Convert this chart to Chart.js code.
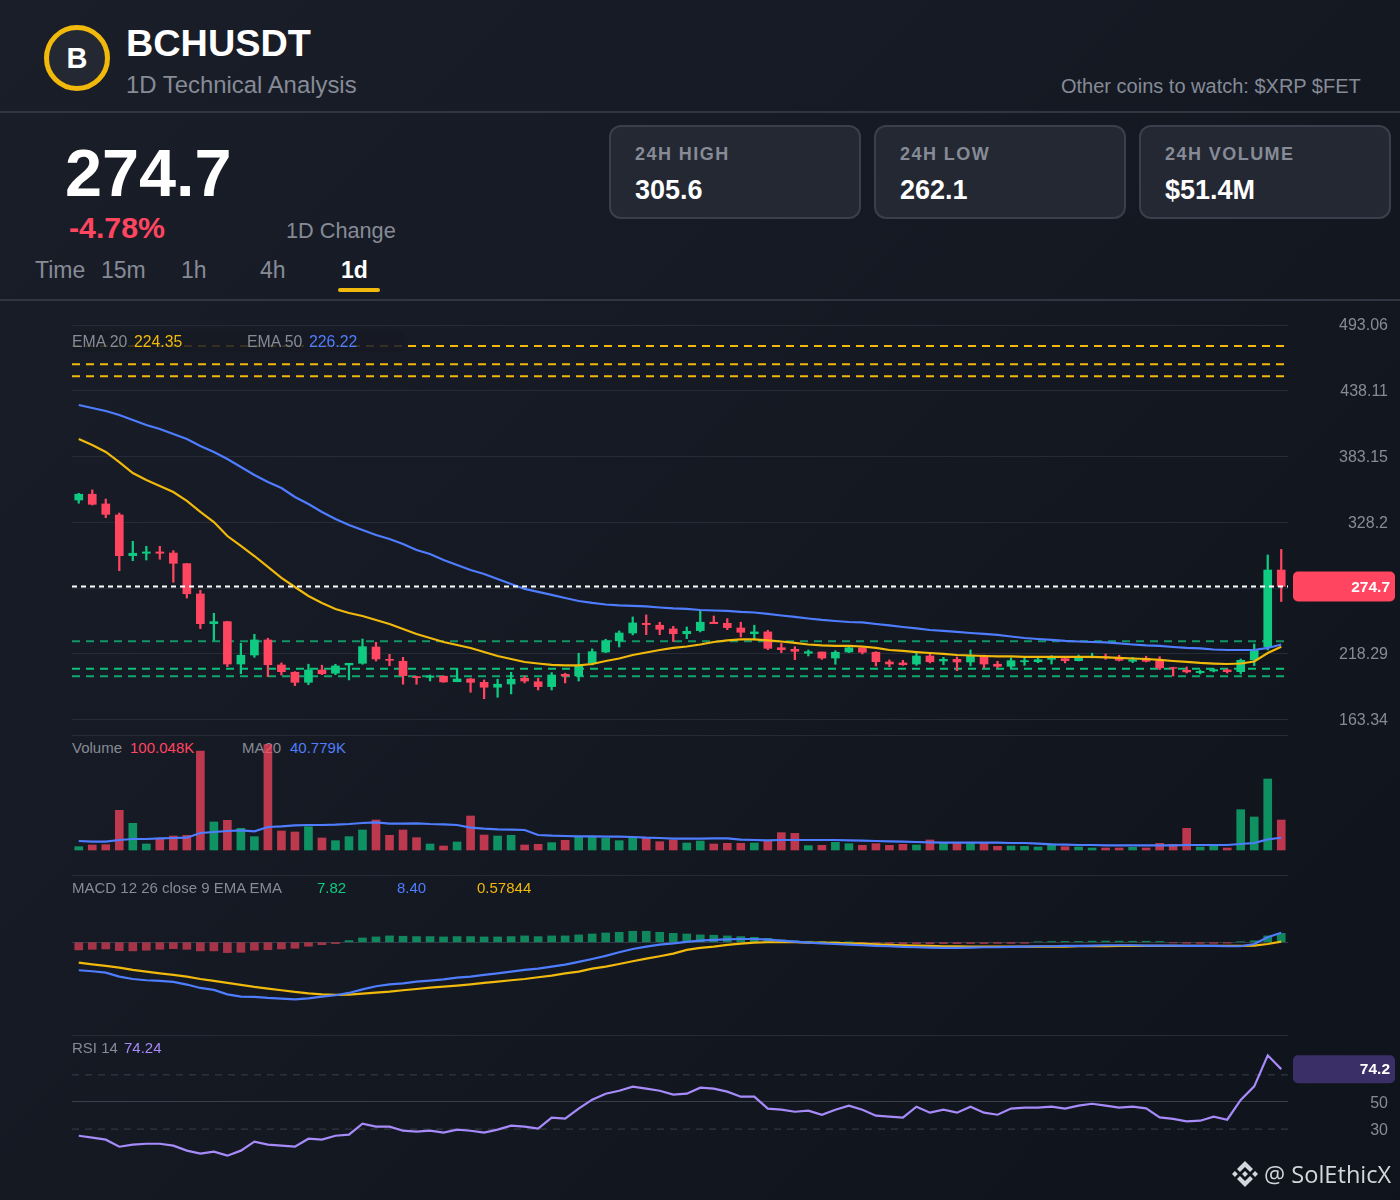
<!DOCTYPE html>
<html>
<head>
<meta charset="utf-8">
<title>BCHUSDT</title>
<script src="https://cdn.jsdelivr.net/npm/chart.js@4/dist/chart.umd.min.js"></script>
<style>
html, body { margin: 0; padding: 0; background: #12161e; }
#page { position: relative; width: 1400px; height: 1200px; overflow: hidden; background: linear-gradient(135deg, #1a1e29 0%, #0f131b 100%); font-family: "Liberation Sans", Arial, sans-serif; color: #fff; }
#page canvas { position: absolute; left: 0; }
.t { position: absolute; white-space: nowrap; line-height: 20px; }
.b { font-weight: 700; }
.gray { color: #868b96; }
.small { font-size: 15px; color: #868b96; }
.ema { font-size: 15.8px; }
.rule { position: absolute; left: 0; width: 1400px; height: 2px; background: #2f3541; }
.sep { position: absolute; left: 72px; width: 1216px; height: 1px; background: #262b35; }
.card { position: absolute; top: 125px; width: 248px; height: 90px; background: #232833; border: 2px solid #393f4b; border-radius: 12px; }
.card .lab { position: absolute; left: 24px; top: 17px; font-size: 18px; font-weight: 700; letter-spacing: 1.45px; line-height: 20px; color: #868b96; white-space: nowrap; }
.card .val { position: absolute; left: 24px; top: 49px; font-size: 27px; font-weight: 700; line-height: 28px; white-space: nowrap; }
#logo { position: absolute; left: 44px; top: 25px; width: 56px; height: 56px; border: 5px solid #f0b90b; border-radius: 50%; background: #232833; text-align: center; line-height: 56px; font-size: 29px; font-weight: 700; }
#tab { position: absolute; left: 338px; top: 288px; width: 42px; height: 4px; border-radius: 2px; background: #f0b90b; }
#emaBox { position: absolute; left: 72px; top: 331px; width: 332px; height: 21px; background: rgba(22, 26, 35, 0.86); }
</style>
</head>
<body>
<div id="page">
  <canvas id="priceChart" width="1400" height="423" style="top:312px"></canvas>
  <div id="emaBox"></div>

  <span class="t small" style="left:72px;top:738px">Volume</span>
  <span class="t small" style="left:130px;top:738px;color:#ff4560">100.048K</span>
  <span class="t small" style="left:242px;top:738px">MA20</span>
  <span class="t small" style="left:290px;top:738px;color:#4f7dff">40.779K</span>
  <canvas id="volumeChart" width="1400" height="140" style="top:735px"></canvas>
  <canvas id="macdChart" width="1400" height="160" style="top:875px"></canvas>
  <canvas id="rsiChart" width="1400" height="165" style="top:1035px"></canvas>

  <div class="sep" style="top:735px"></div>
  <div class="sep" style="top:875px"></div>
  <div class="sep" style="top:1035px"></div>

  <span class="t small ema" style="left:72px;top:332px">EMA 20</span>
  <span class="t small ema" style="left:134px;top:332px;color:#f0b90b">224.35</span>
  <span class="t small ema" style="left:247px;top:332px">EMA 50</span>
  <span class="t small ema" style="left:309px;top:332px;color:#4f7dff">226.22</span>

  <span class="t small" style="left:72px;top:878px">MACD 12 26 close 9 EMA EMA</span>
  <span class="t small" style="left:317px;top:878px;color:#0ecb81">7.82</span>
  <span class="t small" style="left:397px;top:878px;color:#4f7dff">8.40</span>
  <span class="t small" style="left:477px;top:878px;color:#f0b90b">0.57844</span>

  <span class="t small" style="left:72px;top:1038px">RSI 14</span>
  <span class="t small" style="left:124px;top:1038px;color:#a78bfa">74.24</span>

  <div id="logo">B</div>
  <span class="t b" style="left:126px;top:33px;font-size:37.8px">BCHUSDT</span>
  <span class="t gray" style="left:126px;top:75px;font-size:23.9px">1D Technical Analysis</span>
  <span class="t gray" style="left:1061px;top:76px;font-size:20px">Other coins to watch: $XRP $FET</span>
  <div class="rule" style="top:111px"></div>

  <span class="t b" style="left:65px;top:163px;font-size:66.6px">274.7</span>
  <span class="t b" style="left:69px;top:218px;font-size:30.3px;color:#ff4560">-4.78%</span>
  <span class="t gray" style="left:286px;top:221px;font-size:21.7px">1D Change</span>
  <span class="t gray" style="left:35px;top:260px;font-size:23px">Time</span>
  <span class="t gray" style="left:101px;top:260px;font-size:23px">15m</span>
  <span class="t gray" style="left:181px;top:260px;font-size:23px">1h</span>
  <span class="t gray" style="left:260px;top:260px;font-size:23px">4h</span>
  <span class="t b" style="left:341px;top:260px;font-size:23px">1d</span>
  <div id="tab"></div>
  <div class="rule" style="top:299px"></div>

  <div class="card" style="left:609px"><span class="lab">24H HIGH</span><span class="val">305.6</span></div>
  <div class="card" style="left:874px"><span class="lab">24H LOW</span><span class="val">262.1</span></div>
  <div class="card" style="left:1139px"><span class="lab">24H VOLUME</span><span class="val">$51.4M</span></div>

  <svg style="position:absolute;left:1232px;top:1161px" width="26" height="26" viewBox="0 0 126.61 126.61" fill="#d3d6db">
    <path d="M38.73 53.2l24.59-24.58 24.6 24.6 14.3-14.31L63.32 0 24.42 38.9zM0 63.31l14.3-14.31 14.31 14.31-14.31 14.3zM38.73 73.41l24.59 24.59 24.6-24.6 14.31 14.29-.01.01-38.9 38.91-38.9-38.88-.02-.02zM98 63.31l14.3-14.31 14.31 14.3-14.31 14.32z"/>
    <path d="M77.83 63.3L63.32 48.78 52.59 59.51l-1.24 1.23-2.54 2.54 14.51 14.5 14.51-14.47z"/>
  </svg>
  <span class="t" style="left:1264px;top:1164px;font-family:'Open Sans';font-size:23.6px;color:#d3d6db">@ SolEthicX</span>
</div>

<script>
// 1D candles
var opens = [346.9,351.7,343.6,334.4,300.4,302.4,303.5,302.6,293.7,268.4,243.6,245.3,209.9,217.4,230.0,209.1,203.0,194.6,204.9,202.2,209.1,210.5,224.1,213.8,212.2,199.3,198.8,199.7,195.1,197.4,194.6,190.5,193.2,198.0,195.1,191.0,201.3,199.9,210.5,219.9,229.2,235.8,243.9,242.3,239.2,235.2,237.8,244.8,243.9,240.0,235.2,236.7,223.5,222.2,218.9,219.9,214.9,219.9,223.5,219.7,211.6,210.8,209.9,216.6,212.4,213.8,211.6,216.6,209.7,208.0,211.8,211.8,213.8,214.4,212.7,215.5,216.0,215.2,212.2,214.7,212.7,206.9,204.7,202.7,204.1,204.9,203.5,213.3,224.4,288.4];
var closes = [351.7,343.3,334.9,300.4,302.4,303.5,302.4,294.0,268.6,243.6,245.3,209.9,217.2,230.0,209.3,203.5,194.6,204.9,201.8,208.3,210.5,224.4,214.1,213.0,200.2,198.5,199.9,194.9,197.4,194.6,190.5,193.0,197.2,195.7,191.0,200.7,199.9,208.3,220.2,229.4,235.8,244.2,242.8,238.9,235.2,237.2,244.8,243.6,240.3,236.4,236.7,223.0,221.9,220.5,220.2,214.9,219.7,223.5,219.7,211.8,209.9,209.3,216.6,211.8,213.8,211.6,216.6,209.9,208.0,212.7,212.7,213.5,214.7,212.7,215.2,216.0,215.5,213.0,213.5,212.2,206.6,206.3,203.3,203.8,205.2,203.5,213.0,221.4,288.4,274.7];
var highs = [352.5,355.3,347.7,336.0,312.4,308.2,308.2,304.6,294.0,271.5,252.3,245.6,227.2,234.7,231.4,210.8,203.5,209.7,208.9,209.7,210.5,230.8,228.0,218.0,215.5,199.7,200.7,199.9,206.3,198.0,196.6,197.2,203.0,199.9,198.0,202.7,202.2,218.9,222.5,230.6,237.5,249.2,250.9,244.8,241.4,240.8,254.4,250.0,247.8,244.8,242.3,238.1,227.2,224.4,221.6,219.9,221.0,223.9,224.4,220.2,213.3,213.0,218.9,218.9,215.5,215.8,221.6,217.4,212.2,215.0,215.2,214.7,216.9,216.0,217.4,218.9,218.3,217.2,215.5,216.4,216.0,207.2,207.4,204.9,206.0,205.8,214.1,226.6,301.0,305.6];
var lows = [344.2,342.7,332.1,287.8,296.2,296.8,297.4,278.2,265.0,239.4,229.7,207.7,201.8,215.5,199.3,200.7,191.8,192.6,201.0,201.0,196.6,209.7,212.4,208.5,193.0,193.0,195.7,194.6,195.1,186.3,180.9,182.1,184.9,194.1,188.2,188.2,194.1,195.7,209.1,219.4,224.1,234.2,234.4,234.4,228.6,231.1,236.7,243.6,238.6,232.5,230.2,221.9,219.4,213.5,216.6,213.8,209.7,219.4,218.3,208.3,207.7,208.8,208.8,210.8,209.3,204.3,208.3,206.6,206.6,206.8,208.8,211.0,209.9,210.8,212.4,215.0,213.8,212.4,211.0,211.6,205.2,199.9,202.4,201.6,203.3,202.4,201.6,208.5,221.6,262.1];

// overlays
var ema20 = [397.8,392.8,387.0,378.6,369.4,363.6,358.6,353.6,346.1,336.9,328.5,316.8,308.5,300.1,291.0,281.8,274.2,266.7,260.9,255.9,252.5,250.0,246.7,243.3,239.2,235.0,231.6,228.3,225.8,223.3,219.9,216.6,214.1,211.6,210.3,209.1,208.7,208.7,209.9,212.4,214.5,217.4,219.5,221.6,223.3,224.5,226.2,228.3,229.6,230.4,230.4,229.6,228.7,227.5,226.2,225.4,225.0,225.0,224.5,223.3,221.6,220.8,219.9,219.1,218.3,217.4,217.0,216.6,216.2,216.2,215.8,215.8,215.8,215.8,215.8,215.8,215.4,215.0,214.5,214.1,213.3,212.4,211.6,210.8,210.3,209.9,210.3,212.0,219.1,224.35];
var ema50 = [426.2,423.7,421.2,417.9,413.7,409.5,406.2,402.0,397.9,392.0,387.0,381.1,374.5,367.8,361.9,356.9,349.4,343.6,336.9,331.0,326.0,321.8,317.7,314.3,310.2,305.1,301.8,296.8,292.6,288.4,285.1,280.9,276.7,272.6,270.1,267.6,265.0,262.5,260.9,259.6,258.8,258.4,258.0,257.1,256.3,255.9,255.0,254.6,254.2,253.4,252.9,251.7,250.4,249.2,247.9,246.7,245.8,245.0,244.6,243.3,242.1,240.8,239.6,238.3,237.5,236.7,235.8,235.0,234.2,232.9,231.6,230.8,230.0,229.2,228.7,228.3,227.9,227.1,226.2,225.4,225.0,224.1,223.3,222.9,222.0,221.6,221.6,221.6,223.3,226.22];

// volume in thousands
var volumes = [11.1,16.7,17.8,132.3,88.9,20.0,37.8,46.7,48.9,330.2,93.4,98.9,72.3,44.5,351.3,63.4,60.0,77.8,40.0,31.1,44.5,66.7,100.1,48.9,66.7,41.1,20.0,13.3,26.7,113.4,50.0,46.7,48.9,16.7,18.9,24.5,32.2,42.2,42.2,38.9,31.1,42.2,38.9,27.8,33.4,23.3,30.0,20.0,22.2,22.2,23.3,30.0,57.8,55.6,14.5,15.6,25.6,21.1,15.6,21.1,15.6,18.9,16.7,33.4,22.2,22.2,24.5,24.5,12.2,13.3,12.2,10.0,20.0,11.1,10.0,6.7,6.7,6.7,8.9,6.7,22.2,18.9,72.3,10.0,15.6,6.7,134.5,110.1,236.8,100.048];
var volumeMa = [30.0,27.8,27.8,33.4,36.7,36.7,38.9,40.0,41.1,56.7,60.0,63.4,65.6,62.3,76.7,78.9,82.3,83.4,83.4,84.5,86.7,90.0,92.3,87.8,87.8,88.9,86.7,85.6,83.4,74.5,71.1,68.9,67.8,66.7,50.0,47.8,46.7,45.6,45.6,44.5,44.5,43.4,41.1,40.0,37.8,37.8,37.8,38.9,38.9,34.5,33.4,32.2,33.4,33.4,33.4,33.4,33.4,32.2,31.1,30.0,28.9,27.8,26.7,25.6,24.5,24.5,24.5,24.5,24.5,23.3,23.3,21.1,18.9,17.8,16.7,16.7,15.6,15.6,15.6,15.6,15.6,15.6,16.7,16.7,16.7,16.7,20.0,23.3,35.6,40.779];

// MACD
var macdHist = [-6.7,-6.2,-5.9,-7.3,-7.6,-7.0,-6.2,-5.6,-6.2,-7.6,-7.6,-9.1,-8.8,-7.0,-6.5,-5.9,-5.3,-3.5,-2.1,-1.2,1.5,3.8,4.7,5.6,5.3,5.0,5.0,4.7,5.0,5.0,4.7,4.7,5.0,5.6,5.0,5.6,5.6,6.5,7.3,8.2,8.8,9.7,9.7,8.8,7.9,7.3,6.5,6.2,5.6,5.0,4.4,3.5,2.1,1.5,0.9,0.6,0.3,0.3,-0.5,-0.9,-1.1,-1.2,-1.3,-1.3,-1.2,-1.2,-1.1,-1.1,-1.0,-1.0,-0.9,0.5,0.7,0.8,0.8,1.0,1.1,1.0,0.9,0.9,0.7,-0.6,-0.9,-1.0,-1.0,-0.8,0.5,1.3,5.6,7.82];
var macdLine = [-24.6,-25.5,-26.7,-30.2,-32.3,-33.4,-34.0,-34.9,-37.2,-40.2,-41.9,-45.8,-47.8,-48.1,-49.0,-49.6,-50.2,-49.3,-47.8,-46.6,-44.6,-41.4,-38.7,-37.0,-36.1,-34.6,-33.7,-32.6,-31.1,-30.2,-28.7,-27.3,-25.8,-24.3,-23.2,-21.4,-19.7,-17.3,-14.7,-12.0,-8.8,-5.9,-3.8,-2.1,-0.9,0.3,1.5,2.1,2.6,2.9,2.9,2.3,1.5,0.6,-0.3,-0.9,-1.5,-2.1,-2.6,-3.2,-3.5,-4.1,-4.4,-4.7,-5.0,-5.0,-4.7,-4.4,-4.4,-4.1,-3.8,-3.5,-3.5,-3.2,-3.2,-2.9,-2.6,-2.6,-2.6,-2.9,-2.9,-2.9,-3.2,-3.2,-3.2,-3.5,-3.5,-1.5,4.4,8.40];
var macdSignal = [-17.9,-19.4,-20.8,-22.3,-24.3,-25.8,-27.3,-28.7,-30.2,-32.3,-34.0,-35.8,-37.5,-39.3,-40.8,-42.2,-43.7,-44.9,-45.8,-46.3,-46.0,-45.2,-44.3,-43.4,-42.2,-41.1,-39.9,-39.0,-38.1,-37.0,-35.8,-34.6,-33.4,-32.3,-30.8,-29.3,-27.3,-25.8,-23.2,-21.4,-19.1,-16.7,-14.4,-12.3,-10.0,-6.7,-5.0,-3.8,-2.3,-1.2,-0.3,0,0,0,-0.3,-0.3,-0.6,-0.9,-1.2,-1.8,-2.3,-2.6,-2.9,-3.2,-3.5,-3.5,-3.8,-3.8,-3.8,-3.8,-3.8,-3.8,-3.8,-3.8,-3.5,-3.5,-3.5,-3.2,-3.2,-3.2,-3.2,-3.2,-3.2,-3.2,-3.2,-3.2,-3.2,-2.9,-1.5,0.57844];

// RSI
var rsi = [25.1,23.7,22.2,17.0,18.5,19.2,19.2,17.8,14.1,11.9,13.3,10.4,14.1,20.7,18.5,17.8,17.0,22.9,22.2,25.1,25.9,34.0,31.8,31.8,28.8,28.1,28.8,27.4,29.6,28.8,27.4,29.6,32.5,31.8,30.3,38.4,37.7,45.1,51.7,56.1,58.3,61.3,59.8,58.3,55.4,56.1,60.5,59.8,57.6,53.9,53.9,45.1,44.3,42.8,43.6,40.6,44.3,47.3,44.3,39.9,39.2,38.4,46.5,42.1,44.3,42.1,46.5,42.1,40.6,45.1,45.8,45.8,46.5,45.1,47.3,48.7,47.3,45.8,46.5,45.3,38.6,37.5,35.7,36.2,39.2,36.9,51.5,61.5,84.4,74.24];

// axis ticks and level lines
var priceTicks = [493.06, 438.11, 383.15, 328.2, 273.25, 218.29, 163.34];
var rsiTicks = [50, 30];
var rsiGuides = [70, 30];
var resistanceLevels = [475.5, 460.2, 450.2];
var supportLevels = [228.9, 206.0, 199.7];
var supportAlpha = [0.7, 0.95, 0.8];
var lastPrice = 274.7;
var lastRsi = 74.2;

var labels = opens.map(function (v, i) { return String(i + 1); });
var UP = '#0ecb81', DOWN = '#ff4560', GOLD = '#f0b90b', BLUE = '#4f7dff', PURPLE = '#a78bfa';
var GRID = '#262b35', TICK = '#868b96';
var FONT = '"Liberation Sans", Arial, sans-serif';

Chart.defaults.animation = false;
Chart.defaults.font.family = FONT;

var upDown = opens.map(function (o, i) { return closes[i] >= o; });
var candleColors = upDown.map(function (u) { return u ? UP : DOWN; });
var volumeColors = upDown.map(function (u) { return u ? 'rgba(14,203,129,0.68)' : 'rgba(255,69,96,0.72)'; });
var histColors = macdHist.map(function (v) { return v >= 0 ? 'rgba(14,203,129,0.62)' : 'rgba(255,69,96,0.62)'; });

function lineSet(data, color, width) {
    return { type: 'line', data: data, borderColor: color, borderWidth: width || 2.2, pointRadius: 0, tension: 0, order: 1 };
}

function xAxis() {
    return { type: 'category', display: false, offset: true, grid: { display: false } };
}

// horizontal level lines, placed with the chart's own y scale
function levelPlugin(id, hook, lines) {
    var p = { id: id };
    p[hook] = function (chart) {
        var ctx = chart.ctx, y = chart.scales.y;
        lines.forEach(function (l) {
            ctx.save();
            ctx.beginPath();
            ctx.setLineDash(l.dash);
            ctx.lineWidth = l.width;
            ctx.strokeStyle = l.color;
            ctx.moveTo(chart.chartArea.left, y.getPixelForValue(l.value));
            ctx.lineTo(l.end, y.getPixelForValue(l.value));
            ctx.stroke();
            ctx.restore();
        });
    };
    return p;
}

// value tag at the right of the axis
function tagPlugin(id, value, fill, h) {
    return {
        id: id,
        afterDraw: function (chart) {
            var ctx = chart.ctx, cy = chart.scales.y.getPixelForValue(value);
            ctx.save();
            ctx.fillStyle = fill;
            ctx.beginPath();
            ctx.roundRect(1293, cy - h / 2, 102, h, 5);
            ctx.fill();
            ctx.fillStyle = '#fff';
            ctx.font = '700 15.5px ' + FONT;
            ctx.textAlign = 'right';
            ctx.textBaseline = 'middle';
            ctx.fillText(String(value), 1390, cy + 1);
            ctx.restore();
        }
    };
}

// y axis labels sit far right of the plot; the gap comes from an invisible tick mark
function rightAxis(min, max, ticks, gap, gridColor, nudge) {
    return {
        position: 'right', min: min, max: max,
        afterBuildTicks: function (s) { s.ticks = ticks.map(function (v) { return { value: v }; }); },
        afterFit: function (s) { s.width = 100; s.paddingTop = 0; s.paddingBottom = 0; },
        grid: { color: gridColor, tickColor: 'transparent', tickLength: gap },
        border: { display: false },
        ticks: { autoSkip: false, color: TICK, font: { size: 16 }, padding: 0, labelOffset: nudge, crossAlign: 'far', callback: function (v) { return String(v); } }
    };
}

var backLines = resistanceLevels.map(function (v) {
    return { value: v, color: GOLD, dash: [8, 6], width: 2, end: 1285 };
}).concat(supportLevels.map(function (v, i) {
    return { value: v, color: 'rgba(14,203,129,' + supportAlpha[i] + ')', dash: [8, 6], width: 2, end: 1285 };
}));

new Chart(document.getElementById('priceChart'), {
    data: {
        labels: labels,
        datasets: [
            lineSet(ema50, BLUE),
            lineSet(ema20, GOLD),
            { type: 'bar', data: opens.map(function (o, i) { return [o, closes[i]]; }), backgroundColor: candleColors, barThickness: 8, grouped: false, order: 2 },
            { type: 'bar', data: lows.map(function (l, i) { return [l, highs[i]]; }), backgroundColor: candleColors, barThickness: 1.6, grouped: false, order: 3 }
        ]
    },
    options: {
        responsive: false,
        layout: { autoPadding: false, padding: { left: 72, right: 12 } },
        plugins: { legend: { display: false }, tooltip: { enabled: false } },
        scales: {
            x: xAxis(),
            y: rightAxis(150.6, 503.92, priceTicks, 51, GRID, 1)
        }
    },
    plugins: [
        levelPlugin('levels', 'beforeDatasetsDraw', backLines),
        levelPlugin('lastLine', 'afterDatasetsDraw', [{ value: lastPrice, color: '#ffffff', dash: [5, 4], width: 2, end: 1288 }]),
        tagPlugin('priceTag', lastPrice, DOWN, 30)
    ]
});

new Chart(document.getElementById('volumeChart'), {
    data: {
        labels: labels,
        datasets: [
            lineSet(volumeMa, BLUE),
            { type: 'bar', data: volumes, backgroundColor: volumeColors, barThickness: 8, order: 2 }
        ]
    },
    options: {
        responsive: false,
        layout: { autoPadding: false, padding: { left: 72, right: 112 } },
        plugins: { legend: { display: false }, tooltip: { enabled: false } },
        scales: {
            x: xAxis(),
            y: { display: false, min: -83.4, max: 383.5 }
        }
    }
});

new Chart(document.getElementById('macdChart'), {
    data: {
        labels: labels,
        datasets: [
            lineSet(macdLine, BLUE),
            lineSet(macdSignal, GOLD),
            { type: 'bar', data: macdHist, backgroundColor: histColors, barThickness: 8, order: 2 }
        ]
    },
    options: {
        responsive: false,
        layout: { autoPadding: false, padding: { left: 72, right: 112 } },
        plugins: { legend: { display: false }, tooltip: { enabled: false } },
        scales: {
            x: xAxis(),
            y: {
                position: 'right', min: -81.6, max: 59.2,
                afterBuildTicks: function (s) { s.ticks = [{ value: 0 }]; },
                afterFit: function (s) { s.width = 0; },
                grid: { color: '#333945', drawTicks: false },
                border: { display: false },
                ticks: { display: false }
            }
        }
    }
});

new Chart(document.getElementById('rsiChart'), {
    data: {
        labels: labels,
        datasets: [lineSet(rsi, PURPLE)]
    },
    options: {
        responsive: false,
        layout: { autoPadding: false, padding: { left: 72, right: 12 } },
        plugins: { legend: { display: false }, tooltip: { enabled: false } },
        scales: {
            x: xAxis(),
            y: rightAxis(-22.3, 99.4, rsiTicks, 82, function (c) { return c.tick && c.tick.value === 50 ? '#3a3f4b' : 'transparent'; }, 2)
        }
    },
    plugins: [
        levelPlugin('rsiGuides', 'beforeDatasetsDraw', rsiGuides.map(function (v) {
            return { value: v, color: '#3a3f4b', dash: [7, 6], width: 1, end: 1288 };
        })),
        tagPlugin('rsiTag', lastRsi, '#3a2f66', 28)
    ]
});
</script>
</body>
</html>
